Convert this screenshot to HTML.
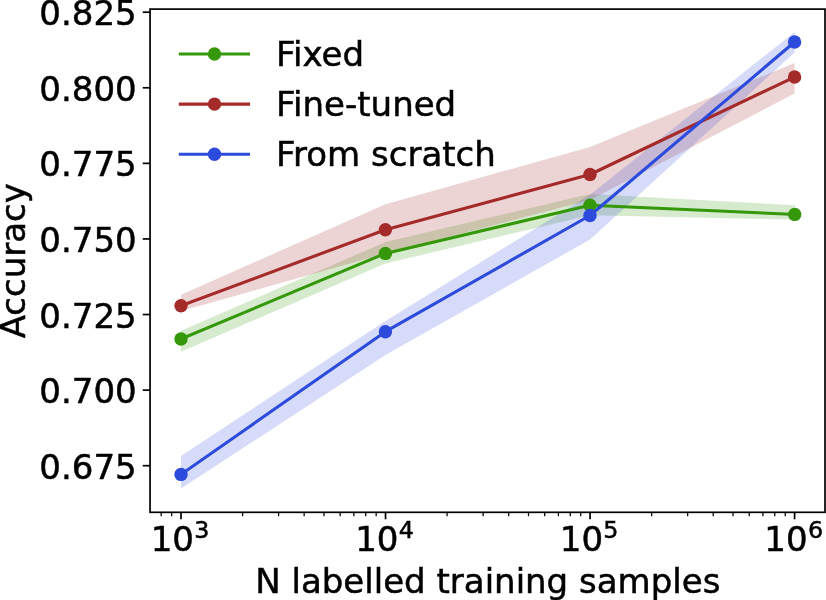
<!DOCTYPE html>
<html><head><meta charset="utf-8"><title>Accuracy vs N labelled training samples</title>
<style>html,body{margin:0;padding:0;background:#fff;overflow:hidden}svg{display:block}text{font-family:"DejaVu Sans","Liberation Sans",sans-serif;fill:#000;stroke:#000;stroke-width:0.5px}</style></head><body>
<svg width="826" height="600" viewBox="0 0 826 600">
<rect width="826" height="600" fill="#fff"/>
<clipPath id="ax"><rect x="150.05" y="9.1" width="674.95" height="503.19999999999993"/></clipPath>
<g clip-path="url(#ax)">
<polygon points="181,330.7 385.4,242.1 590,194 794.7,205.3 794.7,219.6 590,215.2 385.4,263.5 181,351.7" fill="#34980a" fill-opacity="0.2"/>
<polygon points="181,294.7 385.4,204.2 590,147 794.6,63 794.6,93.6 590,200 385.4,253.5 181,311" fill="#a52a2a" fill-opacity="0.2"/>
<polygon points="181,456 385.4,321 590,194.8 794.6,32 794.6,52.5 590,239.5 385.4,355 181,488.6" fill="#2c4bdc" fill-opacity="0.2"/>
<polyline points="181,339 385.4,253.4 590,205.3 794.7,214.4" fill="none" stroke="#34980a" stroke-width="3.1" stroke-linejoin="round" stroke-linecap="square"/>
<circle cx="181" cy="339" r="6.7" fill="#34980a"/>
<circle cx="385.4" cy="253.4" r="6.7" fill="#34980a"/>
<circle cx="590" cy="205.3" r="6.7" fill="#34980a"/>
<circle cx="794.7" cy="214.4" r="6.7" fill="#34980a"/>
<polyline points="181,305.7 385.4,229.7 590,174.5 794.6,77" fill="none" stroke="#a52a2a" stroke-width="3.1" stroke-linejoin="round" stroke-linecap="square"/>
<circle cx="181" cy="305.7" r="6.7" fill="#a52a2a"/>
<circle cx="385.4" cy="229.7" r="6.7" fill="#a52a2a"/>
<circle cx="590" cy="174.5" r="6.7" fill="#a52a2a"/>
<circle cx="794.6" cy="77" r="6.7" fill="#a52a2a"/>
<polyline points="181,474.4 385.4,331.7 590,215.5 794.6,42" fill="none" stroke="#2c4bdc" stroke-width="3.1" stroke-linejoin="round" stroke-linecap="square"/>
<circle cx="181" cy="474.4" r="6.7" fill="#2c4bdc"/>
<circle cx="385.4" cy="331.7" r="6.7" fill="#2c4bdc"/>
<circle cx="590" cy="215.5" r="6.7" fill="#2c4bdc"/>
<circle cx="794.6" cy="42" r="6.7" fill="#2c4bdc"/>
</g>
<line x1="142.75" x2="150.05" y1="12.20" y2="12.20" stroke="#000" stroke-width="1.7"/>
<text x="136.7" y="25.30" font-size="34.0" text-anchor="end">0.825</text>
<line x1="142.75" x2="150.05" y1="87.78" y2="87.78" stroke="#000" stroke-width="1.7"/>
<text x="136.7" y="100.88" font-size="34.0" text-anchor="end">0.800</text>
<line x1="142.75" x2="150.05" y1="163.36" y2="163.36" stroke="#000" stroke-width="1.7"/>
<text x="136.7" y="176.46" font-size="34.0" text-anchor="end">0.775</text>
<line x1="142.75" x2="150.05" y1="238.95" y2="238.95" stroke="#000" stroke-width="1.7"/>
<text x="136.7" y="252.05" font-size="34.0" text-anchor="end">0.750</text>
<line x1="142.75" x2="150.05" y1="314.53" y2="314.53" stroke="#000" stroke-width="1.7"/>
<text x="136.7" y="327.63" font-size="34.0" text-anchor="end">0.725</text>
<line x1="142.75" x2="150.05" y1="390.11" y2="390.11" stroke="#000" stroke-width="1.7"/>
<text x="136.7" y="403.21" font-size="34.0" text-anchor="end">0.700</text>
<line x1="142.75" x2="150.05" y1="465.69" y2="465.69" stroke="#000" stroke-width="1.7"/>
<text x="136.7" y="478.79" font-size="34.0" text-anchor="end">0.675</text>
<line x1="181.00" x2="181.00" y1="512.3" y2="519.3" stroke="#000" stroke-width="1.7"/>
<text x="150.70" y="551.0" font-size="34.0">10</text>
<text x="194.30" y="537.9" font-size="23.8">3</text>
<line x1="385.53" x2="385.53" y1="512.3" y2="519.3" stroke="#000" stroke-width="1.7"/>
<text x="355.23" y="551.0" font-size="34.0">10</text>
<text x="398.83" y="537.9" font-size="23.8">4</text>
<line x1="590.07" x2="590.07" y1="512.3" y2="519.3" stroke="#000" stroke-width="1.7"/>
<text x="559.77" y="551.0" font-size="34.0">10</text>
<text x="603.37" y="537.9" font-size="23.8">5</text>
<line x1="794.60" x2="794.60" y1="512.3" y2="519.3" stroke="#000" stroke-width="1.7"/>
<text x="764.30" y="551.0" font-size="34.0">10</text>
<text x="807.90" y="537.9" font-size="23.8">6</text>
<line x1="161.18" x2="161.18" y1="512.3" y2="516.2" stroke="#000" stroke-width="1.25"/>
<line x1="171.64" x2="171.64" y1="512.3" y2="516.2" stroke="#000" stroke-width="1.25"/>
<line x1="242.57" x2="242.57" y1="512.3" y2="516.2" stroke="#000" stroke-width="1.25"/>
<line x1="278.59" x2="278.59" y1="512.3" y2="516.2" stroke="#000" stroke-width="1.25"/>
<line x1="304.14" x2="304.14" y1="512.3" y2="516.2" stroke="#000" stroke-width="1.25"/>
<line x1="323.96" x2="323.96" y1="512.3" y2="516.2" stroke="#000" stroke-width="1.25"/>
<line x1="340.16" x2="340.16" y1="512.3" y2="516.2" stroke="#000" stroke-width="1.25"/>
<line x1="353.85" x2="353.85" y1="512.3" y2="516.2" stroke="#000" stroke-width="1.25"/>
<line x1="365.71" x2="365.71" y1="512.3" y2="516.2" stroke="#000" stroke-width="1.25"/>
<line x1="376.17" x2="376.17" y1="512.3" y2="516.2" stroke="#000" stroke-width="1.25"/>
<line x1="447.10" x2="447.10" y1="512.3" y2="516.2" stroke="#000" stroke-width="1.25"/>
<line x1="483.12" x2="483.12" y1="512.3" y2="516.2" stroke="#000" stroke-width="1.25"/>
<line x1="508.67" x2="508.67" y1="512.3" y2="516.2" stroke="#000" stroke-width="1.25"/>
<line x1="528.50" x2="528.50" y1="512.3" y2="516.2" stroke="#000" stroke-width="1.25"/>
<line x1="544.69" x2="544.69" y1="512.3" y2="516.2" stroke="#000" stroke-width="1.25"/>
<line x1="558.38" x2="558.38" y1="512.3" y2="516.2" stroke="#000" stroke-width="1.25"/>
<line x1="570.25" x2="570.25" y1="512.3" y2="516.2" stroke="#000" stroke-width="1.25"/>
<line x1="580.71" x2="580.71" y1="512.3" y2="516.2" stroke="#000" stroke-width="1.25"/>
<line x1="651.64" x2="651.64" y1="512.3" y2="516.2" stroke="#000" stroke-width="1.25"/>
<line x1="687.65" x2="687.65" y1="512.3" y2="516.2" stroke="#000" stroke-width="1.25"/>
<line x1="713.21" x2="713.21" y1="512.3" y2="516.2" stroke="#000" stroke-width="1.25"/>
<line x1="733.03" x2="733.03" y1="512.3" y2="516.2" stroke="#000" stroke-width="1.25"/>
<line x1="749.22" x2="749.22" y1="512.3" y2="516.2" stroke="#000" stroke-width="1.25"/>
<line x1="762.92" x2="762.92" y1="512.3" y2="516.2" stroke="#000" stroke-width="1.25"/>
<line x1="774.78" x2="774.78" y1="512.3" y2="516.2" stroke="#000" stroke-width="1.25"/>
<line x1="785.24" x2="785.24" y1="512.3" y2="516.2" stroke="#000" stroke-width="1.25"/>
<rect x="150.05" y="9.1" width="674.95" height="503.19999999999993" fill="none" stroke="#000" stroke-width="1.7"/>
<text x="487.82" y="593.2" font-size="34.0" text-anchor="middle">N labelled training samples</text>
<text transform="translate(24.7,260.70) rotate(-90)" font-size="34.0" text-anchor="middle">Accuracy</text>
<line x1="178.8" x2="250" y1="54.0" y2="54.0" stroke="#34980a" stroke-width="3.1"/>
<circle cx="214.5" cy="54.0" r="6.7" fill="#34980a"/>
<text x="276.0" y="65.90" font-size="34.0">Fixed</text>
<line x1="178.8" x2="250" y1="104.1" y2="104.1" stroke="#a52a2a" stroke-width="3.1"/>
<circle cx="214.5" cy="104.1" r="6.7" fill="#a52a2a"/>
<text x="276.0" y="116.00" font-size="34.0">Fine-tuned</text>
<line x1="178.8" x2="250" y1="154.3" y2="154.3" stroke="#2c4bdc" stroke-width="3.1"/>
<circle cx="214.5" cy="154.3" r="6.7" fill="#2c4bdc"/>
<text x="276.0" y="166.20" font-size="34.0">From scratch</text>
</svg></body></html>
